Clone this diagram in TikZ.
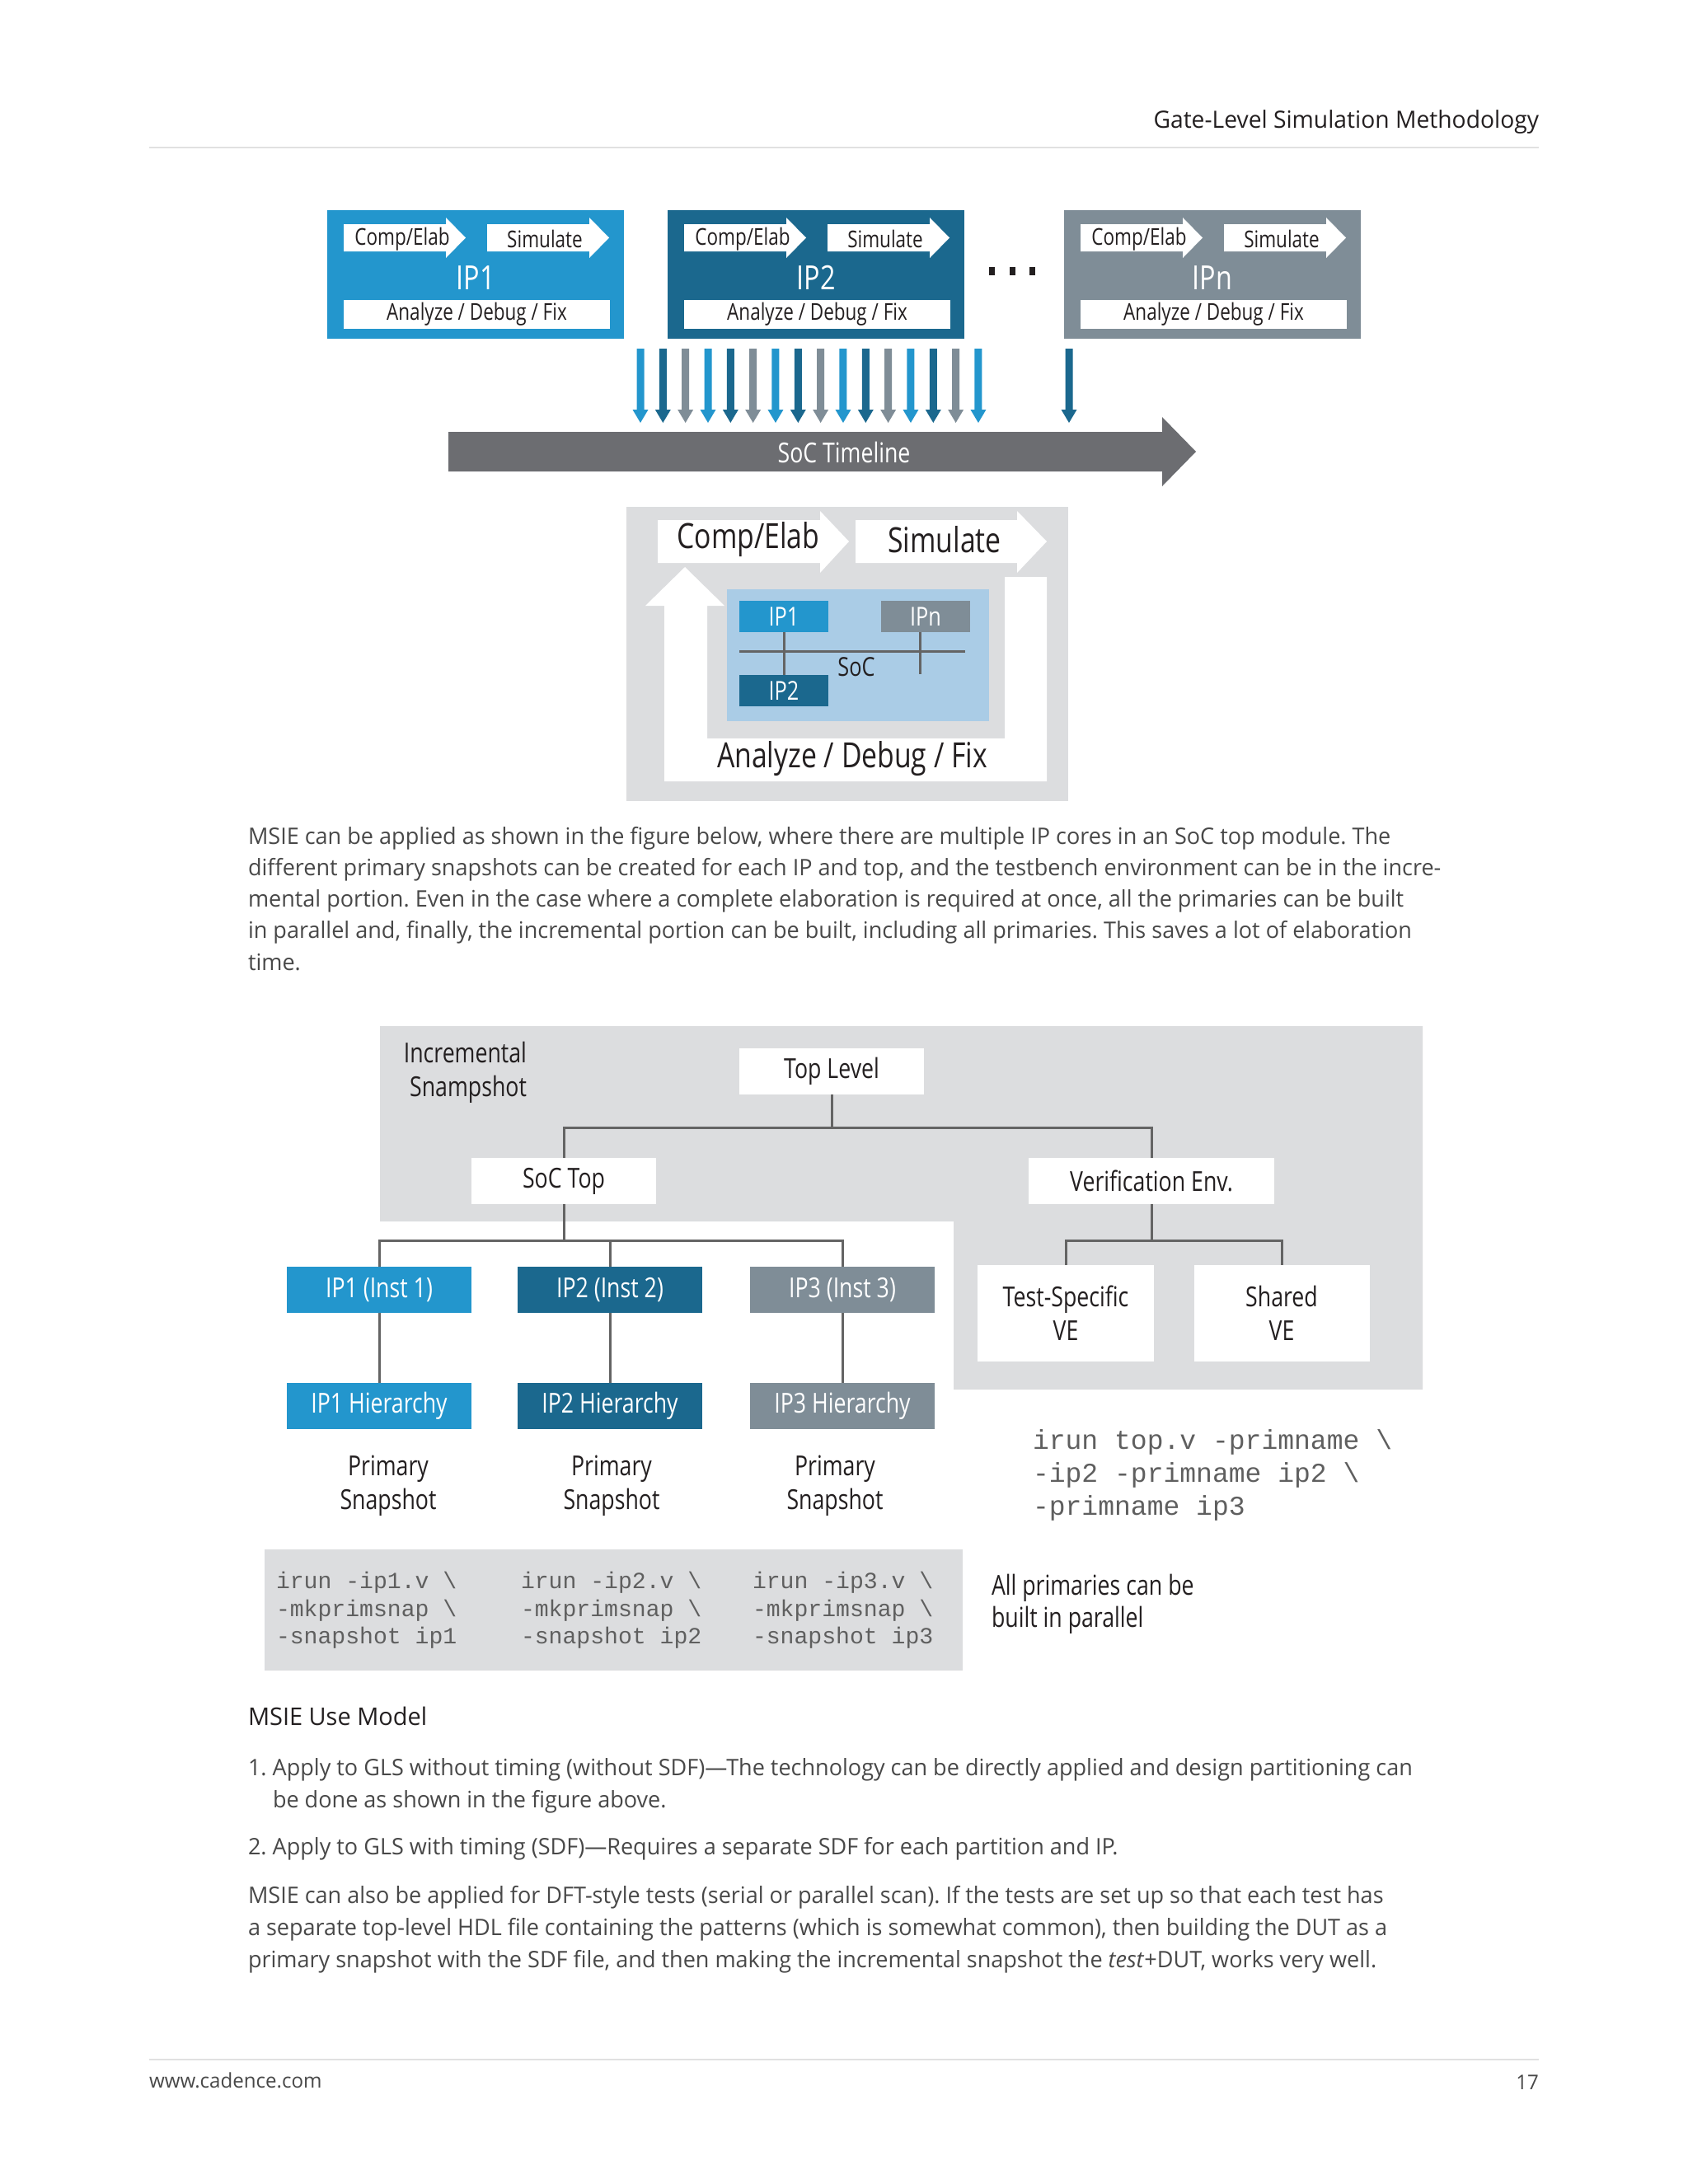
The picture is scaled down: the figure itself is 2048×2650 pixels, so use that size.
\documentclass[tikz,border=0pt]{standalone}
\usepackage{fontspec}
\setmainfont{Open Sans}
\newfontfamily\bodyf[FakeStretch=0.98]{Open Sans}
\newfontfamily\diaf[FakeStretch=0.8]{Open Sans}
\setmonofont{Liberation Mono}
\frenchspacing
\definecolor{ipA}{RGB}{35,150,205}
\definecolor{ipB}{RGB}{27,104,142}
\definecolor{ipC}{RGB}{127,141,151}
\definecolor{tlgray}{RGB}{108,109,113}
\definecolor{panelgray}{RGB}{220,221,223}
\definecolor{socblue}{RGB}{170,204,230}
\definecolor{wire}{RGB}{100,100,100}
\definecolor{ink}{RGB}{35,31,32}
\definecolor{bodyink}{RGB}{72,72,72}
\definecolor{rulegray}{RGB}{225,225,225}
\definecolor{codeink}{RGB}{95,95,95}
\begin{document}
\begin{tikzpicture}[x=0.1mm,y=-0.1mm,
  every node/.style={inner sep=0pt, outer sep=0pt},
  tsmall/.style={font=\diaf\fontsize{8}{9.5}\selectfont, text=ink},
  tbig/.style={font=\diaf\fontsize{12}{14}\selectfont, text=ink},
  tdia/.style={font=\diaf\fontsize{9.5}{11.7}\selectfont, text=ink, align=center},
  dbox/.style={tdia, minimum width=22.4mm, minimum height=5.6mm},
  body/.style={font=\bodyf\fontsize{7.85}{10.9}\selectfont, text=bodyink, anchor=base west},
  wireline/.style={draw=wire, line width=0.3mm},
  codef/.style={font=\ttfamily\fontsize{8}{9.5}\selectfont, text=codeink, align=left, anchor=west}
]
\fill[white] (0,0) rectangle (2048,2650);
\useasboundingbox (0,0) rectangle (2048,2650);

% header and footer
\draw[rulegray, line width=0.2mm] (181,179) -- (1867,179);
\node[font=\bodyf\fontsize{8.2}{9.5}\selectfont, text=ink, anchor=base east] (hdr) at (1867,155) {Gate-Level Simulation Methodology};
\draw[rulegray, line width=0.2mm] (181,2499) -- (1867,2499);
\node[font=\bodyf\fontsize{7}{8}\selectfont, text=bodyink, anchor=base west] (url) at (181,2533) {www.cadence.com};
\node[font=\bodyf\fontsize{7}{8}\selectfont, text=bodyink, anchor=base east] (pg) at (1867,2535) {17};

% IP panels
\foreach \dx/\col/\lab/\nm in {0/ipA/IP1/a, 413/ipB/IP2/b, 894/ipC/IPn/c}{
  \node[fill=\col, minimum width=36mm, minimum height=15.6mm] (pan\nm) at (577+\dx,333) {};
  \fill[white] (417+\dx,272) -- (541+\dx,272) -- (541+\dx,264) -- (565+\dx,288.5) -- (541+\dx,313) -- (541+\dx,305) -- (417+\dx,305) -- cycle;
  \fill[white] (591+\dx,272) -- (715+\dx,272) -- (715+\dx,264) -- (739+\dx,288.5) -- (715+\dx,313) -- (715+\dx,305) -- (591+\dx,305) -- cycle;
  \node[tsmall] (ce\nm) at (488+\dx,290) {Comp/Elab};
  \node[tsmall] (si\nm) at (661+\dx,290) {Simulate};
  \node[font=\diaf\fontsize{11.5}{13}\selectfont, text=white] (lab\nm) at (577+\dx,337) {\lab};
  \node[tsmall, fill=white, minimum width=32.3mm, minimum height=3.5mm] (ad\nm) at (578.5+\dx,381.5) {Analyze / Debug / Fix};
}
\foreach \xx in {1203,1228,1252}{
  \fill[ink] (\xx-3.5,324) rectangle (\xx+3.5,334);
}

% down arrows
\foreach \i/\c in {0/ipA,1/ipB,2/ipC,3/ipA,4/ipB,5/ipC,6/ipA,7/ipB,8/ipC,9/ipA,10/ipB,11/ipC,12/ipA,13/ipB,14/ipC,15/ipA}{
  \pgfmathsetmacro\xx{777+27.33*\i}
  \fill[\c] (\xx-4.5,423) -- (\xx+4.5,423) -- (\xx+4.5,497) -- (\xx+9.5,497) -- (\xx,513) -- (\xx-9.5,497) -- (\xx-4.5,497) -- cycle;
}
\fill[ipB] (1292.5,423) -- (1301.5,423) -- (1301.5,497) -- (1306.5,497) -- (1297,513) -- (1287.5,497) -- (1292.5,497) -- cycle;

% timeline
\fill[tlgray] (544,524) -- (1410,524) -- (1410,506) -- (1451,548) -- (1410,590) -- (1410,572) -- (544,572) -- cycle;
\node[font=\diaf\fontsize{9.5}{11}\selectfont, text=white] (tl) at (1024,549) {SoC Timeline};

% loop figure
\node[fill=panelgray, minimum width=53.6mm, minimum height=35.7mm] (loopbg) at (1028,793.5) {};
\fill[white] (798,631) -- (995,631) -- (995,620) -- (1030,657) -- (995,695) -- (995,683) -- (798,683) -- cycle;
\fill[white] (1038,631) -- (1234,631) -- (1234,620) -- (1270,657) -- (1234,695) -- (1234,683) -- (1038,683) -- cycle;
\fill[white] (806,948) -- (806,735) -- (783,735) -- (831,688) -- (879,735) -- (858,735) -- (858,896) -- (1219,896) -- (1219,700) -- (1270,700) -- (1270,948) -- cycle;
\node[tbig] (bce) at (908,655) {Comp/Elab};
\node[tbig] (bsi) at (1146,655) {Simulate};
\node[tbig] (bad) at (1034,921) {Analyze / Debug / Fix};
\node[fill=socblue, minimum width=31.8mm, minimum height=16mm] (soc) at (1041,795) {};
\node[fill=ipA, text=white, font=\diaf\fontsize{9}{10}\selectfont, minimum width=10.8mm, minimum height=3.8mm] (sip1) at (951,748) {IP1};
\node[fill=ipC, text=white, font=\diaf\fontsize{9}{10}\selectfont, minimum width=10.8mm, minimum height=3.8mm] (sipn) at (1123,748) {IPn};
\node[fill=ipB, text=white, font=\diaf\fontsize{9}{10}\selectfont, minimum width=10.8mm, minimum height=3.8mm] (sip2) at (951,838) {IP2};
\coordinate (busL) at (897,790);
\coordinate (busR) at (1171,790);
\coordinate (ipnend) at (1116,818);
\draw[wireline] (busL) -- (busR);
\draw[wireline] (sip1.south) -- (sip2.north);
\draw[wireline] (sipn.south -| ipnend) -- (ipnend);
\node[font=\diaf\fontsize{9}{10}\selectfont, text=ink] (soclab) at (1039,809) {SoC};

% paragraph
\node[body] (p1) at (301,1024) {MSIE can be applied as shown in the figure below, where there are multiple IP cores in an SoC top module. The};
\node[body] (p2) at (301,1062) {different primary snapshots can be created for each IP and top, and the testbench environment can be in the incre-};
\node[body] (p3) at (301,1100) {mental portion. Even in the case where a complete elaboration is required at once, all the primaries can be built};
\node[body] (p4) at (301,1138) {in parallel and, finally, the incremental portion can be built, including all primaries. This saves a lot of elaboration};
\node[body] (p5) at (301,1177) {time.};

% second diagram
\fill[panelgray] (461,1245) -- (1726,1245) -- (1726,1686) -- (1157,1686) -- (1157,1482) -- (461,1482) -- cycle;
\node[tdia, align=right, anchor=east] (incr) at (639,1301) {Incremental\\Snampshot};
\node[dbox, fill=white] (top) at (1009,1299.5) {Top Level};
\node[dbox, fill=white] (soctop) at (684,1433) {SoC Top};
\node[dbox, fill=white, minimum width=29.8mm] (verif) at (1397,1433) {Verification Env.};
\node[dbox, fill=ipA, text=white] (ip1) at (460,1565) {IP1 (Inst 1)};
\node[dbox, fill=ipB, text=white] (ip2) at (740,1565) {IP2 (Inst 2)};
\node[dbox, fill=ipC, text=white] (ip3) at (1022,1565) {IP3 (Inst 3)};
\node[dbox, fill=ipA, text=white] (h1) at (460,1705.5) {IP1 Hierarchy};
\node[dbox, fill=ipB, text=white] (h2) at (740,1705.5) {IP2 Hierarchy};
\node[dbox, fill=ipC, text=white] (h3) at (1022,1705.5) {IP3 Hierarchy};
\node[tdia, fill=white, minimum width=21.4mm, minimum height=11.7mm] (ts) at (1293,1593.5) {Test-Specific\\VE};
\node[tdia, fill=white, minimum width=21.3mm, minimum height=11.7mm] (sh) at (1555,1593.5) {Shared\\VE};
\coordinate (j1) at (1009,1368);
\coordinate (j2) at (684,1505);
\coordinate (j3) at (1397,1505);
\draw[wireline] (top.south) -- (j1);
\draw[wireline] (soctop.north) |- (j1) -| (verif.north);
\draw[wireline] (soctop.south) -- (j2);
\draw[wireline] (ip1.north) |- (j2) -| (ip3.north);
\draw[wireline] (ip2.north) -- (ip2.north |- j2);
\draw[wireline] (ip1.south) -- (h1.north);
\draw[wireline] (ip2.south) -- (h2.north);
\draw[wireline] (ip3.south) -- (h3.north);
\draw[wireline] (verif.south) -- (j3);
\draw[wireline] (ts.north) |- (j3) -| (sh.north);
\node[tdia] (ps1) at (471,1803) {Primary\\Snapshot};
\node[tdia] (ps2) at (742,1803) {Primary\\Snapshot};
\node[tdia] (ps3) at (1013,1803) {Primary\\Snapshot};
\node[codef, font=\ttfamily\fontsize{9.4}{11.4}\selectfont] (cmdtop) at (1253,1790) {irun top.v -primname \textbackslash\\-ip2 -primname ip2 \textbackslash\\-primname ip3};
\node[fill=panelgray, minimum width=84.7mm, minimum height=14.7mm] (codebox) at (744.5,1953.5) {};
\node[codef] (c1) at (335,1954) {irun -ip1.v \textbackslash\\-mkprimsnap \textbackslash\\-snapshot ip1};
\node[codef] (c2) at (632,1954) {irun -ip2.v \textbackslash\\-mkprimsnap \textbackslash\\-snapshot ip2};
\node[codef] (c3) at (913,1954) {irun -ip3.v \textbackslash\\-mkprimsnap \textbackslash\\-snapshot ip3};
\node[tdia, align=left, anchor=west, font=\diaf\fontsize{9.5}{11.1}\selectfont] (allp) at (1203,1946) {All primaries can be\\built in parallel};

% use model text
\node[body, font=\bodyf\fontsize{8.4}{10}\selectfont, text=ink] (umh) at (301,2093) {MSIE Use Model};
\node[body] (u1) at (301,2154) {1. Apply to GLS without timing (without SDF)\textemdash The technology can be directly applied and design partitioning can};
\node[body] (u1b) at (331,2193) {be done as shown in the figure above.};
\node[body] (u2) at (301,2250) {2. Apply to GLS with timing (SDF)\textemdash Requires a separate SDF for each partition and IP.};
\node[body] (q1) at (301,2309) {MSIE can also be applied for DFT-style tests (serial or parallel scan). If the tests are set up so that each test has};
\node[body] (q2) at (301,2348) {a separate top-level HDL file containing the patterns (which is somewhat common), then building the DUT as a};
\node[body] (q3) at (301,2387) {primary snapshot with the SDF file, and then making the incremental snapshot the \textit{test}+DUT, works very well.};
\end{tikzpicture}
\end{document}
